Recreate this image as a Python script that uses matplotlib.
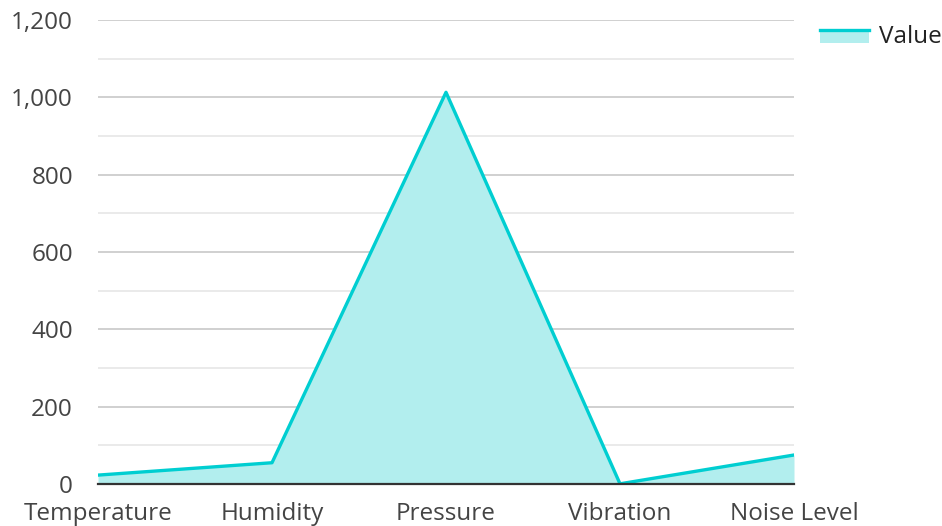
import matplotlib.pyplot as plt
from matplotlib.lines import Line2D
from matplotlib.patches import Rectangle
from matplotlib.legend_handler import HandlerBase
from matplotlib.ticker import MultipleLocator, FuncFormatter

# Data
categories = ['Temperature', 'Humidity', 'Pressure', 'Vibration', 'Noise Level']
values = [23, 55, 1013, 0.5, 75]

line_color = '#00CED1'
fill_color = '#B2EEEE'


# legend key: line on top of a filled strip
class AreaHandler(HandlerBase):
    def create_artists(self, legend, orig_handle, xdescent, ydescent,
                       width, height, fontsize, trans):
        top = height * 0.75 - ydescent
        rect = Rectangle((-xdescent, top - height * 0.75), width, height * 0.75,
                         facecolor=fill_color, edgecolor='none', transform=trans)
        line = Line2D([-xdescent, -xdescent + width], [top, top],
                      color=line_color, linewidth=2.4, transform=trans)
        return [rect, line]


plt.rcParams['font.family'] = ['Open Sans', 'DejaVu Sans']

fig = plt.figure(figsize=(9.42, 5.26), dpi=100)
ax = fig.add_axes([98 / 942, 1 - 484 / 526, (794 - 98) / 942, (484 - 20) / 526])

x = list(range(len(categories)))
ax.fill_between(x, values, 0, color=fill_color, linewidth=0, zorder=2)
area, = ax.plot(x, values, color=line_color, linewidth=2.4, zorder=3)

ax.set_xlim(0, len(categories) - 1)
ax.set_ylim(0, 1200)
ax.yaxis.set_major_locator(MultipleLocator(200))
ax.yaxis.set_minor_locator(MultipleLocator(100))
ax.yaxis.set_major_formatter(FuncFormatter(lambda v, p: f'{int(v):,}'))
ax.grid(axis='y', which='major', color='#c8c8c8', linewidth=1.2, zorder=1)
ax.grid(axis='y', which='minor', color='#e6e6e6', linewidth=1.2, zorder=1)

ax.set_xticks(x)
ax.set_xticklabels(categories)

for s in ['top', 'right', 'left']:
    ax.spines[s].set_visible(False)
ax.spines['bottom'].set_color('#333333')
ax.spines['bottom'].set_linewidth(1.6)
ax.spines['bottom'].set_zorder(4)

ax.tick_params(axis='both', which='both', length=0, labelsize=17.5, colors='#444444')
ax.tick_params(axis='y', pad=18)
ax.tick_params(axis='x', pad=13)

fig.legend([area], ['Value'], loc='upper left', bbox_to_anchor=(820 / 942, 1 - 25 / 526),
           handler_map={Line2D: AreaHandler()}, frameon=False, fontsize=17.5,
           borderpad=0, borderaxespad=0, handlelength=2.0, handletextpad=0.42,
           labelcolor='#222222')

fig.savefig('out.png', dpi=100)
